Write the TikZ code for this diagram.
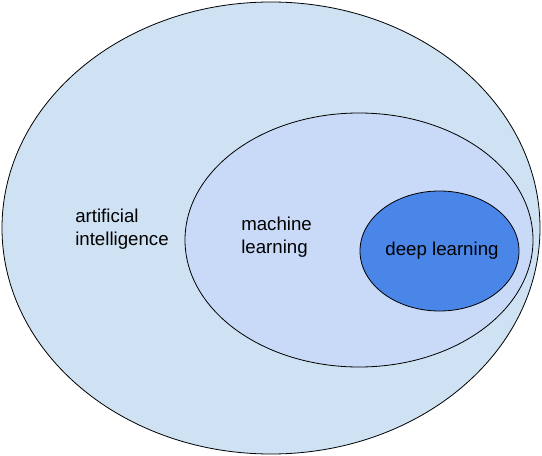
\documentclass[tikz,border=0pt]{standalone}
\usepackage{fontspec}
\setmainfont{Liberation Sans}
\definecolor{aiblue}{RGB}{207,226,243}
\definecolor{mlblue}{RGB}{201,218,248}
\definecolor{dlblue}{RGB}{74,134,232}
\tikzset{
  setshape/.style={draw={rgb, 255:red, 0; green, 0; blue, 0 }, line width=0.6},
  setlabel/.style={font=\fontsize{14}{17}\selectfont, align=left, inner sep=0}
}
\begin{document}
\begin{tikzpicture}[x=0.75pt,y=0.75pt,yscale=-1,xscale=1]
\useasboundingbox (0,0) rectangle (542,456);
% Shape: Ellipse [id:ai]
\draw [setshape, fill=aiblue] (271,228) ellipse (269 and 226);
% Shape: Ellipse [id:ml]
\draw [setshape, fill=mlblue] (359,240) ellipse (174 and 127);
% Shape: Ellipse [id:dl]
\draw [setshape, fill=dlblue] (439.5,251) ellipse (79.5 and 60);

\node [setlabel, anchor=west] (ailabel) at (75,229) {artificial\\intelligence};
\node [setlabel, anchor=west] (mllabel) at (241,237) {machine\\learning};
\node [setlabel] (dllabel) at (442,251) {deep learning};
\end{tikzpicture}
\end{document}
